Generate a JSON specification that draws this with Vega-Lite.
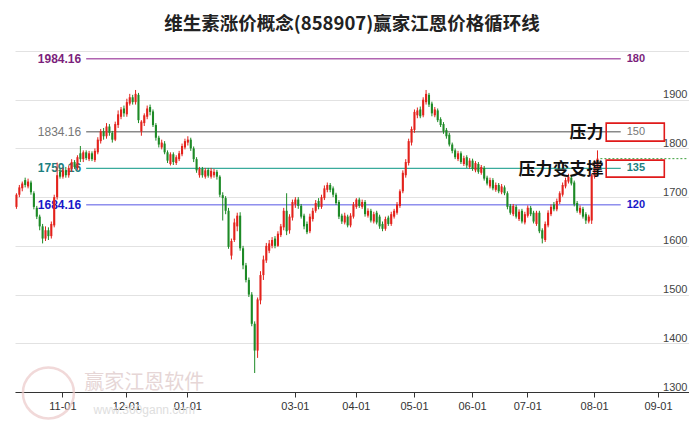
{
"$schema": "https://vega.github.io/schema/vega-lite/v6.json",
"width": 674, "height": 341,
"autosize": {"type": "none"},
"padding": {"left": 15, "top": 51, "right": 0, "bottom": 35},
"background": "white",
"title": {"text": "维生素涨价概念(858907)赢家江恩价格循环线", "anchor": "middle", "offset": 18, "fontSize": 18.5, "font": "Noto Sans CJK SC", "fontWeight": "bold", "color": "#222222"},
"config": {"view": {"stroke": null}, "font": "Liberation Sans"},
"encoding": {
 "x": {"field": "d", "type": "ordinal",
  "scale": {"type": "band", "paddingInner": 0, "paddingOuter": 0, "domain": [
"2023-10-10","2023-10-11","2023-10-12","2023-10-13","2023-10-16","2023-10-17","2023-10-18","2023-10-19","2023-10-20","2023-10-23","2023-10-24","2023-10-25","2023-10-26","2023-10-27","2023-10-30","2023-10-31",
"2023-11-01","2023-11-02","2023-11-03","2023-11-06","2023-11-07","2023-11-08","2023-11-09","2023-11-10","2023-11-13","2023-11-14","2023-11-15","2023-11-16","2023-11-17","2023-11-20","2023-11-21","2023-11-22","2023-11-23","2023-11-24","2023-11-27","2023-11-28","2023-11-29","2023-11-30",
"2023-12-01","2023-12-04","2023-12-05","2023-12-06","2023-12-07","2023-12-08","2023-12-11","2023-12-12","2023-12-13","2023-12-14","2023-12-15","2023-12-18","2023-12-19","2023-12-20","2023-12-21","2023-12-22","2023-12-25","2023-12-26","2023-12-27","2023-12-28","2023-12-29",
"2024-01-02","2024-01-03","2024-01-04","2024-01-05","2024-01-08","2024-01-09","2024-01-10","2024-01-11","2024-01-12","2024-01-15","2024-01-16","2024-01-17","2024-01-18","2024-01-19","2024-01-22","2024-01-23","2024-01-24","2024-01-25","2024-01-26","2024-01-29","2024-01-30","2024-01-31",
"2024-02-01","2024-02-02","2024-02-05","2024-02-06","2024-02-07","2024-02-08","2024-02-19","2024-02-20","2024-02-21","2024-02-22","2024-02-23","2024-02-26","2024-02-27","2024-02-28","2024-02-29",
"2024-03-01","2024-03-04","2024-03-05","2024-03-06","2024-03-07","2024-03-08","2024-03-11","2024-03-12","2024-03-13","2024-03-14","2024-03-15","2024-03-18","2024-03-19","2024-03-20","2024-03-21","2024-03-22","2024-03-25","2024-03-26","2024-03-27","2024-03-28","2024-03-29",
"2024-04-01","2024-04-02","2024-04-03","2024-04-08","2024-04-09","2024-04-10","2024-04-11","2024-04-12","2024-04-15","2024-04-16","2024-04-17","2024-04-18","2024-04-19","2024-04-22","2024-04-23","2024-04-24","2024-04-25","2024-04-26","2024-04-29","2024-04-30",
"2024-05-06","2024-05-07","2024-05-08","2024-05-09","2024-05-10","2024-05-13","2024-05-14","2024-05-15","2024-05-16","2024-05-17","2024-05-20","2024-05-21","2024-05-22","2024-05-23","2024-05-24","2024-05-27","2024-05-28","2024-05-29","2024-05-30","2024-05-31",
"2024-06-03","2024-06-04","2024-06-05","2024-06-06","2024-06-07","2024-06-11","2024-06-12","2024-06-13","2024-06-14","2024-06-17","2024-06-18","2024-06-19","2024-06-20","2024-06-21","2024-06-24","2024-06-25","2024-06-26","2024-06-27","2024-06-28",
"2024-07-01","2024-07-02","2024-07-03","2024-07-04","2024-07-05","2024-07-08","2024-07-09","2024-07-10","2024-07-11","2024-07-12","2024-07-15","2024-07-16","2024-07-17","2024-07-18","2024-07-19","2024-07-22","2024-07-23","2024-07-24","2024-07-25","2024-07-26","2024-07-29","2024-07-30","2024-07-31",
"2024-08-01","2024-08-02","2024-08-05","2024-08-06","2024-08-07","2024-08-08","2024-08-09","2024-08-12","2024-08-13","2024-08-14","2024-08-15","2024-08-16","2024-08-19","2024-08-20","2024-08-21","2024-08-22","2024-08-23","2024-08-26","2024-08-27","2024-08-28","2024-08-29","2024-08-30",
"2024-09-02","2024-09-03","2024-09-04","2024-09-05","2024-09-06","2024-09-09","2024-09-10","2024-09-11","2024-09-12","2024-09-13","2024-09-18"]},
  "axis": {"title": null, "values": ["2023-11-01","2023-12-01","2024-01-02","2024-03-01","2024-04-01","2024-05-06","2024-06-03","2024-07-01","2024-08-01","2024-09-02"],
   "labelExpr": "slice(datum.value,5,8) + '01'", "labelAngle": 0, "tickSize": 5, "tickColor": "#333333", "domainColor": "#333333", "labelColor": "#333333", "labelFontSize": 11, "labelPadding": 3, "grid": false}}
},
"layer": [
 {"data": {"name": "k"},
  "mark": {"type": "rule", "strokeWidth": 1},
  "encoding": {"y": {"field": "l", "type": "quantitative", "title": null, "scale": {"domain": [1300, 2000], "nice": false, "zero": false},
    "axis": {"title": null, "orient": "right", "format": "d", "values": [1300,1400,1500,1600,1700,1800,1900,2000], "labelExpr": "datum.value == 2000 ? '' : datum.label",
     "grid": true, "gridColor": "#e2e2e2", "domain": false, "ticks": false, "tickSize": 0, "labelPadding": -2, "labelAlign": "right", "labelBaseline": "bottom", "labelFlush": false, "labelFontSize": 11, "labelColor": "#444444"}},
   "y2": {"field": "h"}, "opacity": {"value": 0}}},
 {"data": {"values": [{"d": "2023-12-11", "y": 1318, "t": "赢家江恩软件"}]},
  "mark": {"type": "text", "font": "Noto Sans CJK SC", "fontSize": 20, "color": "#e6d6d6", "align": "center", "baseline": "middle"},
  "encoding": {"y": {"field": "y", "type": "quantitative", "title": null}, "text": {"field": "t"}}},
 {"data": {"values": [{"d": "2023-12-11", "y": 1263, "t": "www.360gann.com"}]},
  "mark": {"type": "text", "fontSize": 12, "color": "#dedede", "align": "center", "baseline": "middle"},
  "encoding": {"y": {"field": "y", "type": "quantitative", "title": null}, "text": {"field": "t"}}},
 {"data": {"values": [{"d": "2023-10-25", "y": 1298}]},
  "mark": {"type": "point", "shape": "circle", "size": 2600, "filled": false, "stroke": "#ecc9c9", "strokeWidth": 2.5},
  "encoding": {"y": {"field": "y", "type": "quantitative", "title": null}}},
 {"data": {"name": "lv"},
  "mark": {"type": "rule"},
  "encoding": {"x2": {"field": "d2"}, "y": {"field": "v", "type": "quantitative", "title": null},
   "stroke": {"field": "r", "type": "nominal", "legend": null, "scale": {"domain": ["180","150","135","120"], "range": ["#b064b0","#8a8a8a","#3aab9c","#5656e4"]}},
   "strokeWidth": {"field": "r", "type": "nominal", "legend": null, "scale": {"domain": ["180","150","135","120"], "range": [1.5, 1, 1.2, 1.6]}}}},
 {"data": {"name": "lv"},
  "transform": [{"filter": "datum.r != '150'"}],
  "mark": {"type": "text", "align": "right", "baseline": "middle", "dx": -5, "fontSize": 12, "fontWeight": "bold"},
  "encoding": {"y": {"field": "v", "type": "quantitative", "title": null}, "text": {"field": "lab"},
   "color": {"field": "r", "type": "nominal", "legend": null, "scale": {"domain": ["180","150","135","120"], "range": ["#7c1f7c","#777777","#1c8080","#1717c8"]}}}},
 {"data": {"name": "lv"},
  "transform": [{"filter": "datum.r == '150'"}],
  "mark": {"type": "text", "align": "right", "baseline": "middle", "dx": -5, "fontSize": 12, "color": "#777777"},
  "encoding": {"y": {"field": "v", "type": "quantitative", "title": null}, "text": {"field": "lab"}}},
 {"data": {"name": "lv"},
  "transform": [{"filter": "datum.r != '150'"}],
  "mark": {"type": "text", "align": "left", "baseline": "middle", "dx": 6, "fontSize": 11, "fontWeight": "bold"},
  "encoding": {"x": {"field": "d2", "type": "ordinal"}, "y": {"field": "v", "type": "quantitative", "title": null}, "text": {"field": "r"},
   "color": {"field": "r", "type": "nominal", "legend": null}}},
 {"data": {"name": "lv"},
  "transform": [{"filter": "datum.r == '150'"}],
  "mark": {"type": "text", "align": "left", "baseline": "middle", "dx": 6, "fontSize": 11, "color": "#777777"},
  "encoding": {"x": {"field": "d2", "type": "ordinal"}, "y": {"field": "v", "type": "quantitative", "title": null}, "text": {"field": "r"}}},
 {"data": {"name": "k"},
  "mark": {"type": "rule", "strokeWidth": 1},
  "encoding": {"y": {"field": "l", "type": "quantitative", "title": null}, "y2": {"field": "h"},
   "color": {"condition": {"test": "datum.c >= datum.o", "value": "#e3221c"}, "value": "#1d8a26"}}},
 {"data": {"name": "k"},
  "mark": {"type": "bar", "width": {"band": 0.72}},
  "encoding": {"y": {"field": "o", "type": "quantitative", "title": null}, "y2": {"field": "c"},
   "color": {"condition": {"test": "datum.c >= datum.o", "value": "#e3221c"}, "value": "#1d8a26"}}},
 {"data": {"values": [{"d": "2024-08-05", "d2": "2024-09-18", "v": 1779}]},
  "mark": {"type": "rule", "color": "#3a9e3a", "strokeWidth": 1, "strokeDash": [2, 2]},
  "encoding": {"x2": {"field": "d2"}, "y": {"field": "v", "type": "quantitative", "title": null}}},
 {"data": {"values": [{"d": "2024-08-07", "d2": "2024-09-04", "a": 1852, "b": 1815}, {"d": "2024-08-07", "d2": "2024-09-04", "a": 1776, "b": 1741}]},
  "mark": {"type": "rect", "filled": false, "stroke": "#e01a1a", "strokeWidth": 1.6},
  "encoding": {"x2": {"field": "d2"}, "y": {"field": "a", "type": "quantitative", "title": null}, "y2": {"field": "b"}}},
 {"data": {"values": [{"d": "2024-08-02", "v": 1831, "t": "压力"}, {"d": "2024-08-02", "v": 1755, "t": "压力变支撑"}]},
  "mark": {"type": "text", "align": "right", "baseline": "middle", "dx": 6, "font": "Noto Sans CJK SC", "fontSize": 17, "fontWeight": "bold", "color": "#111111"},
  "encoding": {"y": {"field": "v", "type": "quantitative", "title": null}, "text": {"field": "t"}}}
],
"datasets": {
 "lv": [
  {"d": "2023-11-13", "d2": "2024-08-14", "v": 1984.16, "lab": "1984.16", "r": "180"},
  {"d": "2023-11-13", "d2": "2024-08-14", "v": 1834.16, "lab": "1834.16", "r": "150"},
  {"d": "2023-11-13", "d2": "2024-08-14", "v": 1759.16, "lab": "1759.16", "r": "135"},
  {"d": "2023-11-13", "d2": "2024-08-14", "v": 1684.16, "lab": "1684.16", "r": "120"}
 ],
 "k": [
{"d":"2023-10-10","o":1680,"h":1708,"l":1676,"c":1705},
{"d":"2023-10-11","o":1705,"h":1725,"l":1700,"c":1720},
{"d":"2023-10-12","o":1718,"h":1732,"l":1712,"c":1728},
{"d":"2023-10-13","o":1735,"h":1740,"l":1720,"c":1725},
{"d":"2023-10-16","o":1722,"h":1738,"l":1718,"c":1732},
{"d":"2023-10-17","o":1730,"h":1734,"l":1705,"c":1710},
{"d":"2023-10-18","o":1708,"h":1712,"l":1675,"c":1680},
{"d":"2023-10-19","o":1678,"h":1682,"l":1655,"c":1660},
{"d":"2023-10-20","o":1660,"h":1664,"l":1632,"c":1640},
{"d":"2023-10-23","o":1640,"h":1645,"l":1605,"c":1615},
{"d":"2023-10-24","o":1615,"h":1640,"l":1610,"c":1632},
{"d":"2023-10-25","o":1632,"h":1638,"l":1612,"c":1620},
{"d":"2023-10-26","o":1620,"h":1650,"l":1615,"c":1645},
{"d":"2023-10-27","o":1642,"h":1705,"l":1638,"c":1700},
{"d":"2023-10-30","o":1700,"h":1771,"l":1695,"c":1745},
{"d":"2023-10-31","o":1752,"h":1758,"l":1738,"c":1742},
{"d":"2023-11-01","o":1742,"h":1760,"l":1738,"c":1755},
{"d":"2023-11-02","o":1755,"h":1762,"l":1740,"c":1745},
{"d":"2023-11-03","o":1745,"h":1765,"l":1740,"c":1760},
{"d":"2023-11-06","o":1758,"h":1778,"l":1752,"c":1772},
{"d":"2023-11-07","o":1772,"h":1776,"l":1758,"c":1762},
{"d":"2023-11-08","o":1760,"h":1786,"l":1756,"c":1782},
{"d":"2023-11-09","o":1790,"h":1805,"l":1772,"c":1778},
{"d":"2023-11-10","o":1778,"h":1796,"l":1772,"c":1792},
{"d":"2023-11-13","o":1792,"h":1796,"l":1776,"c":1780},
{"d":"2023-11-14","o":1778,"h":1795,"l":1774,"c":1790},
{"d":"2023-11-15","o":1790,"h":1794,"l":1774,"c":1778},
{"d":"2023-11-16","o":1776,"h":1800,"l":1772,"c":1795},
{"d":"2023-11-17","o":1792,"h":1823,"l":1788,"c":1818},
{"d":"2023-11-20","o":1815,"h":1840,"l":1810,"c":1835},
{"d":"2023-11-21","o":1835,"h":1842,"l":1818,"c":1825},
{"d":"2023-11-22","o":1825,"h":1852,"l":1820,"c":1845},
{"d":"2023-11-23","o":1845,"h":1850,"l":1826,"c":1832},
{"d":"2023-11-24","o":1832,"h":1836,"l":1812,"c":1818},
{"d":"2023-11-27","o":1818,"h":1855,"l":1815,"c":1850},
{"d":"2023-11-28","o":1848,"h":1878,"l":1842,"c":1870},
{"d":"2023-11-29","o":1865,"h":1885,"l":1860,"c":1880},
{"d":"2023-11-30","o":1882,"h":1888,"l":1865,"c":1872},
{"d":"2023-12-01","o":1870,"h":1902,"l":1865,"c":1895},
{"d":"2023-12-04","o":1892,"h":1912,"l":1888,"c":1905},
{"d":"2023-12-05","o":1905,"h":1910,"l":1890,"c":1895},
{"d":"2023-12-06","o":1895,"h":1920,"l":1890,"c":1912},
{"d":"2023-12-07","o":1910,"h":1914,"l":1852,"c":1858},
{"d":"2023-12-08","o":1835,"h":1858,"l":1826,"c":1855},
{"d":"2023-12-11","o":1852,"h":1872,"l":1846,"c":1868},
{"d":"2023-12-12","o":1865,"h":1888,"l":1860,"c":1882},
{"d":"2023-12-13","o":1885,"h":1890,"l":1868,"c":1875},
{"d":"2023-12-14","o":1876,"h":1880,"l":1844,"c":1848},
{"d":"2023-12-15","o":1848,"h":1852,"l":1816,"c":1822},
{"d":"2023-12-18","o":1822,"h":1826,"l":1802,"c":1808},
{"d":"2023-12-19","o":1802,"h":1818,"l":1798,"c":1812},
{"d":"2023-12-20","o":1810,"h":1815,"l":1788,"c":1792},
{"d":"2023-12-21","o":1792,"h":1796,"l":1770,"c":1775},
{"d":"2023-12-22","o":1768,"h":1792,"l":1765,"c":1788},
{"d":"2023-12-25","o":1788,"h":1792,"l":1766,"c":1772},
{"d":"2023-12-26","o":1770,"h":1786,"l":1766,"c":1782},
{"d":"2023-12-27","o":1778,"h":1795,"l":1774,"c":1790},
{"d":"2023-12-28","o":1788,"h":1810,"l":1784,"c":1805},
{"d":"2023-12-29","o":1802,"h":1820,"l":1798,"c":1815},
{"d":"2024-01-02","o":1812,"h":1825,"l":1806,"c":1818},
{"d":"2024-01-03","o":1818,"h":1822,"l":1795,"c":1800},
{"d":"2024-01-04","o":1800,"h":1804,"l":1772,"c":1778},
{"d":"2024-01-05","o":1778,"h":1782,"l":1750,"c":1755},
{"d":"2024-01-08","o":1745,"h":1762,"l":1740,"c":1758},
{"d":"2024-01-09","o":1758,"h":1762,"l":1740,"c":1745},
{"d":"2024-01-10","o":1742,"h":1760,"l":1738,"c":1755},
{"d":"2024-01-11","o":1756,"h":1760,"l":1740,"c":1744},
{"d":"2024-01-12","o":1742,"h":1760,"l":1738,"c":1754},
{"d":"2024-01-15","o":1745,"h":1758,"l":1740,"c":1752},
{"d":"2024-01-16","o":1752,"h":1756,"l":1736,"c":1742},
{"d":"2024-01-17","o":1742,"h":1745,"l":1700,"c":1705},
{"d":"2024-01-18","o":1704,"h":1710,"l":1652,"c":1698},
{"d":"2024-01-19","o":1698,"h":1702,"l":1665,"c":1672},
{"d":"2024-01-22","o":1672,"h":1678,"l":1594,"c":1598},
{"d":"2024-01-23","o":1580,"h":1615,"l":1572,"c":1610},
{"d":"2024-01-24","o":1612,"h":1656,"l":1608,"c":1648},
{"d":"2024-01-25","o":1640,"h":1668,"l":1630,"c":1662},
{"d":"2024-01-26","o":1662,"h":1669,"l":1590,"c":1595},
{"d":"2024-01-29","o":1595,"h":1600,"l":1552,"c":1560},
{"d":"2024-01-30","o":1560,"h":1565,"l":1525,"c":1530},
{"d":"2024-01-31","o":1530,"h":1535,"l":1495,"c":1500},
{"d":"2024-02-01","o":1500,"h":1505,"l":1435,"c":1440},
{"d":"2024-02-02","o":1440,"h":1445,"l":1339,"c":1385},
{"d":"2024-02-05","o":1385,"h":1494,"l":1370,"c":1490},
{"d":"2024-02-06","o":1488,"h":1548,"l":1480,"c":1540},
{"d":"2024-02-07","o":1540,"h":1580,"l":1530,"c":1572},
{"d":"2024-02-08","o":1570,"h":1606,"l":1565,"c":1600},
{"d":"2024-02-19","o":1590,"h":1612,"l":1585,"c":1605},
{"d":"2024-02-20","o":1600,"h":1618,"l":1595,"c":1612},
{"d":"2024-02-21","o":1615,"h":1620,"l":1595,"c":1600},
{"d":"2024-02-22","o":1600,"h":1630,"l":1598,"c":1625},
{"d":"2024-02-23","o":1622,"h":1645,"l":1618,"c":1640},
{"d":"2024-02-26","o":1638,"h":1678,"l":1632,"c":1672},
{"d":"2024-02-27","o":1672,"h":1708,"l":1622,"c":1630},
{"d":"2024-02-28","o":1632,"h":1665,"l":1625,"c":1660},
{"d":"2024-02-29","o":1658,"h":1695,"l":1652,"c":1690},
{"d":"2024-03-01","o":1685,"h":1700,"l":1678,"c":1695},
{"d":"2024-03-04","o":1695,"h":1700,"l":1676,"c":1682},
{"d":"2024-03-05","o":1682,"h":1686,"l":1656,"c":1660},
{"d":"2024-03-06","o":1662,"h":1666,"l":1634,"c":1640},
{"d":"2024-03-07","o":1645,"h":1650,"l":1624,"c":1628},
{"d":"2024-03-08","o":1630,"h":1666,"l":1626,"c":1660},
{"d":"2024-03-11","o":1655,"h":1678,"l":1650,"c":1672},
{"d":"2024-03-12","o":1672,"h":1694,"l":1668,"c":1688},
{"d":"2024-03-13","o":1692,"h":1698,"l":1675,"c":1680},
{"d":"2024-03-14","o":1680,"h":1705,"l":1676,"c":1700},
{"d":"2024-03-15","o":1698,"h":1724,"l":1694,"c":1718},
{"d":"2024-03-18","o":1715,"h":1730,"l":1710,"c":1725},
{"d":"2024-03-19","o":1725,"h":1729,"l":1710,"c":1715},
{"d":"2024-03-20","o":1718,"h":1722,"l":1700,"c":1705},
{"d":"2024-03-21","o":1705,"h":1709,"l":1684,"c":1688},
{"d":"2024-03-22","o":1690,"h":1694,"l":1655,"c":1660},
{"d":"2024-03-25","o":1662,"h":1666,"l":1645,"c":1650},
{"d":"2024-03-26","o":1648,"h":1668,"l":1644,"c":1662},
{"d":"2024-03-27","o":1660,"h":1664,"l":1638,"c":1642},
{"d":"2024-03-28","o":1642,"h":1667,"l":1638,"c":1662},
{"d":"2024-03-29","o":1660,"h":1690,"l":1656,"c":1685},
{"d":"2024-04-01","o":1680,"h":1698,"l":1676,"c":1695},
{"d":"2024-04-02","o":1695,"h":1699,"l":1678,"c":1682},
{"d":"2024-04-03","o":1680,"h":1695,"l":1676,"c":1690},
{"d":"2024-04-08","o":1690,"h":1694,"l":1660,"c":1665},
{"d":"2024-04-09","o":1662,"h":1677,"l":1658,"c":1672},
{"d":"2024-04-10","o":1672,"h":1676,"l":1648,"c":1652},
{"d":"2024-04-11","o":1650,"h":1670,"l":1646,"c":1665},
{"d":"2024-04-12","o":1668,"h":1672,"l":1644,"c":1648},
{"d":"2024-04-15","o":1660,"h":1664,"l":1635,"c":1640},
{"d":"2024-04-16","o":1645,"h":1650,"l":1630,"c":1635},
{"d":"2024-04-17","o":1635,"h":1660,"l":1631,"c":1655},
{"d":"2024-04-18","o":1658,"h":1662,"l":1641,"c":1645},
{"d":"2024-04-19","o":1645,"h":1670,"l":1641,"c":1665},
{"d":"2024-04-22","o":1660,"h":1676,"l":1656,"c":1672},
{"d":"2024-04-23","o":1668,"h":1690,"l":1664,"c":1685},
{"d":"2024-04-24","o":1682,"h":1716,"l":1678,"c":1712},
{"d":"2024-04-25","o":1712,"h":1755,"l":1708,"c":1750},
{"d":"2024-04-26","o":1745,"h":1778,"l":1740,"c":1772},
{"d":"2024-04-29","o":1770,"h":1820,"l":1765,"c":1815},
{"d":"2024-04-30","o":1812,"h":1845,"l":1806,"c":1840},
{"d":"2024-05-06","o":1838,"h":1880,"l":1832,"c":1875},
{"d":"2024-05-07","o":1868,"h":1884,"l":1862,"c":1878},
{"d":"2024-05-08","o":1880,"h":1886,"l":1862,"c":1866},
{"d":"2024-05-09","o":1868,"h":1905,"l":1864,"c":1900},
{"d":"2024-05-10","o":1895,"h":1920,"l":1890,"c":1912},
{"d":"2024-05-13","o":1910,"h":1914,"l":1885,"c":1890},
{"d":"2024-05-14","o":1892,"h":1896,"l":1866,"c":1872},
{"d":"2024-05-15","o":1868,"h":1885,"l":1864,"c":1880},
{"d":"2024-05-16","o":1878,"h":1882,"l":1854,"c":1858},
{"d":"2024-05-17","o":1860,"h":1864,"l":1844,"c":1848},
{"d":"2024-05-20","o":1850,"h":1854,"l":1830,"c":1835},
{"d":"2024-05-21","o":1838,"h":1842,"l":1820,"c":1825},
{"d":"2024-05-22","o":1828,"h":1832,"l":1804,"c":1808},
{"d":"2024-05-23","o":1808,"h":1812,"l":1790,"c":1795},
{"d":"2024-05-24","o":1796,"h":1800,"l":1778,"c":1782},
{"d":"2024-05-27","o":1778,"h":1795,"l":1774,"c":1790},
{"d":"2024-05-28","o":1790,"h":1794,"l":1768,"c":1772},
{"d":"2024-05-29","o":1768,"h":1785,"l":1764,"c":1780},
{"d":"2024-05-30","o":1782,"h":1786,"l":1760,"c":1765},
{"d":"2024-05-31","o":1762,"h":1780,"l":1758,"c":1775},
{"d":"2024-06-03","o":1775,"h":1779,"l":1754,"c":1758},
{"d":"2024-06-04","o":1755,"h":1774,"l":1751,"c":1770},
{"d":"2024-06-05","o":1768,"h":1772,"l":1748,"c":1752},
{"d":"2024-06-06","o":1750,"h":1766,"l":1746,"c":1762},
{"d":"2024-06-07","o":1760,"h":1764,"l":1734,"c":1738},
{"d":"2024-06-11","o":1740,"h":1744,"l":1724,"c":1728},
{"d":"2024-06-12","o":1722,"h":1740,"l":1718,"c":1735},
{"d":"2024-06-13","o":1735,"h":1739,"l":1714,"c":1718},
{"d":"2024-06-14","o":1715,"h":1730,"l":1711,"c":1725},
{"d":"2024-06-17","o":1725,"h":1729,"l":1708,"c":1712},
{"d":"2024-06-18","o":1710,"h":1727,"l":1706,"c":1722},
{"d":"2024-06-19","o":1720,"h":1724,"l":1704,"c":1708},
{"d":"2024-06-20","o":1708,"h":1712,"l":1675,"c":1680},
{"d":"2024-06-21","o":1682,"h":1686,"l":1664,"c":1668},
{"d":"2024-06-24","o":1665,"h":1686,"l":1661,"c":1682},
{"d":"2024-06-25","o":1680,"h":1684,"l":1656,"c":1660},
{"d":"2024-06-26","o":1655,"h":1675,"l":1651,"c":1670},
{"d":"2024-06-27","o":1672,"h":1676,"l":1646,"c":1650},
{"d":"2024-06-28","o":1648,"h":1670,"l":1644,"c":1665},
{"d":"2024-07-01","o":1662,"h":1683,"l":1658,"c":1678},
{"d":"2024-07-02","o":1678,"h":1682,"l":1661,"c":1665},
{"d":"2024-07-03","o":1668,"h":1672,"l":1646,"c":1650},
{"d":"2024-07-04","o":1645,"h":1672,"l":1641,"c":1668},
{"d":"2024-07-05","o":1668,"h":1672,"l":1626,"c":1630},
{"d":"2024-07-08","o":1632,"h":1636,"l":1605,"c":1615},
{"d":"2024-07-09","o":1612,"h":1650,"l":1608,"c":1645},
{"d":"2024-07-10","o":1642,"h":1673,"l":1638,"c":1668},
{"d":"2024-07-11","o":1665,"h":1685,"l":1661,"c":1680},
{"d":"2024-07-12","o":1685,"h":1690,"l":1671,"c":1675},
{"d":"2024-07-15","o":1675,"h":1697,"l":1671,"c":1692},
{"d":"2024-07-16","o":1690,"h":1712,"l":1686,"c":1708},
{"d":"2024-07-17","o":1705,"h":1730,"l":1701,"c":1725},
{"d":"2024-07-18","o":1722,"h":1740,"l":1718,"c":1735},
{"d":"2024-07-19","o":1732,"h":1748,"l":1728,"c":1742},
{"d":"2024-07-22","o":1740,"h":1744,"l":1724,"c":1728},
{"d":"2024-07-23","o":1730,"h":1734,"l":1681,"c":1685},
{"d":"2024-07-24","o":1688,"h":1692,"l":1668,"c":1672},
{"d":"2024-07-25","o":1668,"h":1683,"l":1664,"c":1678},
{"d":"2024-07-26","o":1676,"h":1680,"l":1656,"c":1660},
{"d":"2024-07-29","o":1665,"h":1669,"l":1645,"c":1652},
{"d":"2024-07-30","o":1650,"h":1664,"l":1646,"c":1660},
{"d":"2024-07-31","o":1652,"h":1748,"l":1645,"c":1745},
{"d":"2024-08-01","o":1742,"h":1775,"l":1738,"c":1762},
{"d":"2024-08-02","o":1758,"h":1796,"l":1750,"c":1779}
 ]
}
}
